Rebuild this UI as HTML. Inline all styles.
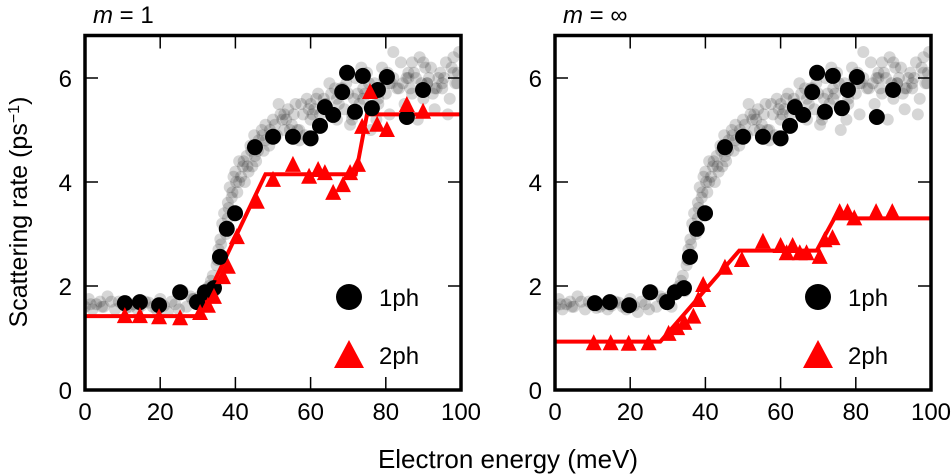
<!DOCTYPE html>
<html><head><meta charset="utf-8"><style>
body{margin:0;background:#fff;}
svg{display:block;font-family:"Liberation Sans",sans-serif;}
</style></head><body>
<svg id="chart" width="952" height="475" viewBox="0 0 952 475" xmlns="http://www.w3.org/2000/svg">
<defs>
<clipPath id="clipL"><rect x="85" y="36" width="376" height="353"/></clipPath>
<clipPath id="clipR"><rect x="555" y="36" width="376" height="353"/></clipPath>
</defs>
<g id="plots"></g>
<text x="93" y="23" font-size="24"><tspan font-style="italic">m</tspan> = 1</text>
<text x="563" y="23" font-size="24"><tspan font-style="italic">m</tspan> = ∞</text>
<text transform="translate(27,212) rotate(-90)" text-anchor="middle" font-size="25">Scattering rate (ps<tspan baseline-shift="super" font-size="16">−1</tspan>)</text>
<text x="508" y="468" text-anchor="middle" font-size="26">Electron energy (meV)</text>
</svg>
<script>
const xTicks=[0,20,40,60,80,100];
const yTicks=[0,2,4,6];
const cloudX=[0,1,2,3,5,6,8,9,12,14,16,18,20,22,24,26,27,28,30,31,32,33,34,34.5,35,35.5,36,36.5,37,37.5,38,38.5,39,39.5,40,40.5,41,42,43,43.5,44,45,46,47,48,49,50,51,52,53,54,55,56,57,58,59,60,61,62,63,64,65,66,67,68,69,70,71,72,73,74,75,76,77,78,79,80,81,82,83,84,85,86,87,88,89,90,91,92,93,94,95,96,97,98,99,99.5,96.5,92.5,88.5,84.5,80.5,77.5,73.5,70.5,66.5,62.5,58.5,54.5,51.5,47.5,44.5,42.5,48,76,10,4,25,29,36,38,41,45.5,53,60,67,74,81,87,93,98,82,90,95,
1.5,4.5,7,11,13,15,17,19,21,23,28.5,30.5,32.5,33.5,35.2,36.2,37.2,38.2,39.2,40.2,41.5,42.2,43.2,44.2,45.2,46.2,47.2,49.2,50.5,52.5,53.5,55.5,56.5,57.5,59.5,60.5,61.5,63.5,64.5,65.5,67.5,68.5,69.5,71.5,72.5,74.5,75.5,78.5,79.5,81.5,83.5,85.5,86.5,87.5,89.5,90.5,91.5,93.5,94.5,95.5,97.5,98.5,99.2,91,86,78,71,64,57];
const cloudY=[1.6,1.75,1.55,1.65,1.6,1.8,1.55,1.7,1.6,1.55,1.7,1.6,1.75,1.5,1.65,1.9,1.6,1.8,1.7,1.6,1.85,2.0,2.2,1.9,2.4,2.7,2.9,3.2,3.4,3.0,3.6,3.9,3.7,4.1,4.2,3.8,4.4,4.3,4.5,4.2,4.7,4.9,4.6,5.0,5.1,4.7,5.2,4.9,5.3,5.0,5.4,5.1,5.5,4.8,5.3,5.6,5.2,5.4,5.7,5.1,5.5,5.9,5.3,5.6,5.8,5.4,5.7,5.2,6.0,5.5,5.8,6.1,5.4,5.9,5.6,6.2,5.7,5.3,6.0,5.8,6.3,5.5,6.1,5.7,6.0,6.4,5.6,5.9,6.2,5.4,6.0,5.8,6.3,5.6,6.1,5.9,6.5,5.3,5.7,5.2,5.9,6.1,5.2,6.2,5.1,5.8,5.3,4.9,5.0,5.5,4.6,4.3,4.0,4.8,5.0,1.65,1.7,1.55,1.75,2.6,3.3,4.0,4.4,5.3,5.5,5.2,5.6,5.9,6.3,5.8,6.4,6.5,6.3,5.9,
1.65,1.6,1.7,1.58,1.65,1.62,1.68,1.55,1.62,1.7,1.75,1.8,1.95,2.1,2.5,2.8,3.1,3.5,3.8,4.0,4.1,4.4,4.3,4.6,4.5,4.8,4.9,5.0,5.1,5.2,5.2,5.3,5.0,5.5,5.4,5.3,5.6,5.6,5.4,5.7,5.5,5.8,5.9,5.6,5.7,5.7,5.9,5.8,6.0,5.9,5.8,6.0,5.8,6.1,5.9,6.2,6.0,5.8,6.1,6.0,6.2,5.9,6.1,5.9,6.0,5.5,5.3,5.5,5.0];
const onePhX=[10.6,14.6,19.7,25.3,29.8,31.9,34.3,35.9,37.7,39.9,45.2,50,55.3,60,62.5,63.8,66,68.4,69.7,73.9,71.8,76.3,77.9,80.3,85.6,89.9];
const onePhY=[1.67,1.69,1.63,1.88,1.69,1.88,1.96,2.56,3.1,3.4,4.67,4.87,4.87,4.84,5.08,5.44,5.29,5.73,6.1,6.04,5.35,5.42,5.77,6.02,5.25,5.77];
const twoPhX_m1=[10.6,14.6,19.7,25.3,30.6,32.7,34.3,36.7,38,40.4,45.7,50,55.3,59.6,62,63.8,66,68.6,70.5,72.6,73.7,75.8,77.7,80.3,85.6,89.9];
const twoPhY_m1=[1.42,1.42,1.40,1.38,1.48,1.62,1.79,2.17,2.37,2.94,3.62,4.04,4.33,4.1,4.23,4.17,3.79,3.94,4.17,4.33,5.06,5.73,5.1,5.0,5.48,5.35];
const fitX_m1=[0,30,48,72,75,100];
const fitY_m1=[1.42,1.42,4.15,4.15,5.3,5.3];
const twoPhX_minf=[10.3,14.8,19.6,24.9,30.2,32.5,34.4,36.8,38.1,39.4,45.2,49.7,55.3,60,61.6,63.2,65.1,66.9,70.4,71.7,73.8,75.7,77.8,79.6,85.4,89.7];
const twoPhY_minf=[0.9,0.9,0.89,0.9,1.08,1.19,1.29,1.41,1.73,2.02,2.35,2.5,2.85,2.77,2.63,2.77,2.63,2.63,2.56,2.88,2.92,3.42,3.42,3.3,3.42,3.42];
const fitX_minf=[0,28,49,69.6,74.3,100];
const fitY_minf=[0.93,0.93,2.68,2.68,3.3,3.3];

const NS='http://www.w3.org/2000/svg';
const root=document.getElementById('plots');
function mk(tag,attrs,parent){const e=document.createElementNS(NS,tag);for(const k in attrs)e.setAttribute(k,attrs[k]);parent.appendChild(e);return e;}
const Y0=390,YPU=52,TOP=35.5;
function ys(v){return Y0-v*YPU;}
function panel(left,right,name,twoX,twoY,fitX,fitY,clip,legX){
  const xs=v=>left+(right-left)*v/100;
  const g=mk('g',{},root);
  
  
  const cg=mk('g',{'clip-path':'url(#'+clip+')'},g);
  for(let i=0;i<cloudX.length;i++){
    const c=mk('circle',{cx:xs(cloudX[i]),cy:ys(cloudY[i]),r:6,fill:'#000','fill-opacity':0.16},cg);
    
    
  }
  let d='';fitX.forEach((x,i)=>{d+=(i?'L':'M')+xs(x)+','+ys(fitY[i]);});
  const fl=mk('path',{d:d,stroke:'#ff0000','stroke-width':4,fill:'none'},cg);
  
  
  for(let i=0;i<onePhX.length;i++){
    const c=mk('circle',{cx:xs(onePhX[i]),cy:ys(onePhY[i]),r:8,fill:'#000'},cg);
    
    
  }
  for(let i=0;i<twoX.length;i++){
    const x=xs(twoX[i]),y=ys(twoY[i]);
    const t=mk('polygon',{points:(x-8)+','+(y+7)+' '+(x+8)+','+(y+7)+' '+x+','+(y-9),fill:'#ff0000'},cg);
    
    
  }
  xTicks.forEach(t=>{
    const x=xs(t);
    mk('line',{x1:x,y1:TOP,x2:x,y2:TOP+13,stroke:'#000','stroke-width':1.5},g);
    mk('line',{x1:x,y1:Y0,x2:x,y2:Y0-13,stroke:'#000','stroke-width':1.5},g);
    const lb=mk('text',{x:x,y:Y0+30,'text-anchor':'middle','font-size':24},g);
    lb.textContent=t;
    
    
  });
  yTicks.forEach(t=>{
    const y=ys(t);
    mk('line',{x1:left,y1:y,x2:left+13,y2:y,stroke:'#000','stroke-width':1.5},g);
    mk('line',{x1:right,y1:y,x2:right-13,y2:y,stroke:'#000','stroke-width':1.5},g);
    const lb=mk('text',{x:left-13,y:y+9,'text-anchor':'end','font-size':24},g);
    lb.textContent=t;
    
    
  });
  const fr=mk('rect',{x:left,y:TOP,width:right-left,height:Y0-TOP,fill:'none',stroke:'#000','stroke-width':3.5},g);
  
  
  const lg=mk('g',{},g);
  
  
  mk('circle',{cx:legX,cy:297,r:13,fill:'#000'},lg);
  const t1=mk('text',{x:legX+30,y:306,'font-size':24},lg);t1.textContent='1ph';
  
  
  mk('polygon',{points:(legX-15)+','+368+' '+(legX+15)+','+368+' '+legX+','+340,fill:'#ff0000'},lg);
  const t2=mk('text',{x:legX+30,y:364,'font-size':24},lg);t2.textContent='2ph';
  
  
}
panel(85,461,'panel-m1',twoPhX_m1,twoPhY_m1,fitX_m1,fitY_m1,'clipL',349);
panel(555,931,'panel-minf',twoPhX_minf,twoPhY_minf,fitX_minf,fitY_minf,'clipR',818);
</script>
</body></html>
